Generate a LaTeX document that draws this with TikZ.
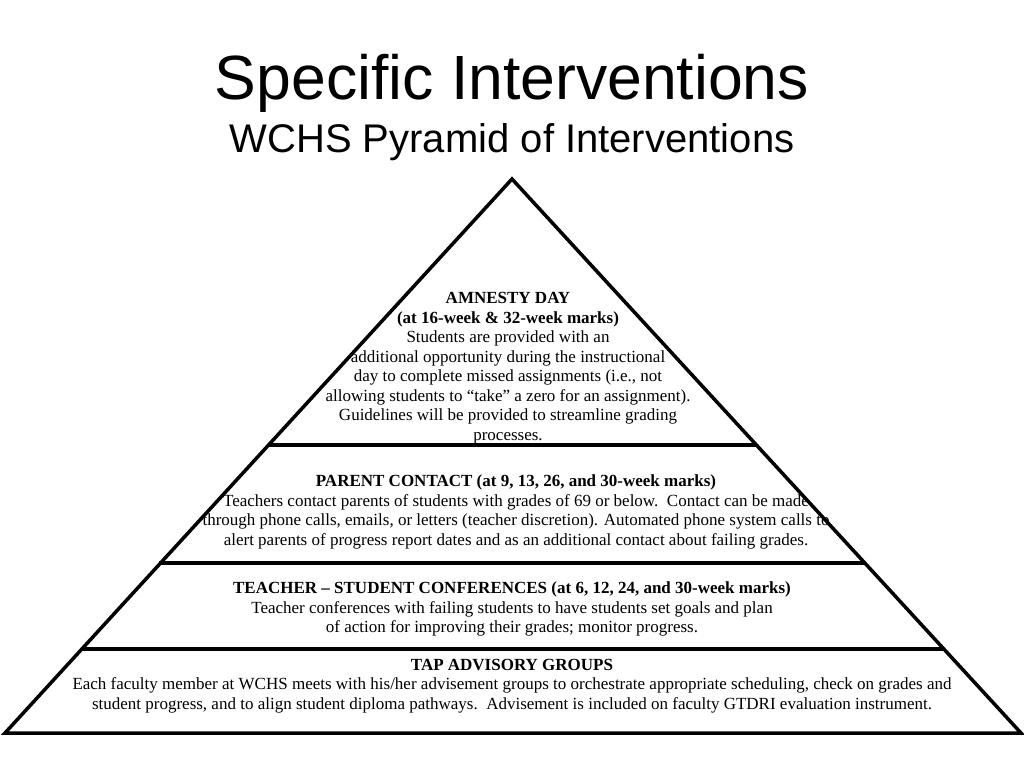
\documentclass[tikz,border=0pt]{standalone}
\usepackage{fontspec}
\setmainfont{Liberation Serif}
\newfontfamily\titlefont{Liberation Sans}
\begin{document}
\begin{tikzpicture}[x=1pt,y=-1pt,
  txt/.style={align=center,font=\fontsize{17}{19.5}\selectfont,inner sep=0},
  edge/.style={line width=3.5pt,line join=miter}]
\useasboundingbox (0,0) rectangle (1024,768);
\fill[white] (0,0) rectangle (1024,768);
\node[font=\titlefont\fontsize{62.5}{64}\selectfont] (title) at (512,83) {Specific Interventions};
\node[font=\titlefont\fontsize{40}{42}\selectfont] (sub) at (512,142) {WCHS Pyramid of Interventions};
\coordinate (apex) at (512,179);
\coordinate (bl) at (5,733);
\coordinate (br) at (1021,733);
\draw[edge] (apex) -- (bl) -- (br) -- cycle;
\draw[edge] (268,445) -- (756,445);
\draw[edge] (159,563) -- (865,563);
\draw[edge] (81,649) -- (943,649);
\node[txt] (t1) at (508,368) {\textbf{AMNESTY DAY}\\\textbf{(at 16-week \& 32-week marks)}\\Students are provided with an\\additional opportunity during the instructional\\day to complete missed assignments (i.e., not\\allowing students to “take” a zero for an assignment).\\Guidelines will be provided to streamline grading\\processes.};
\node[txt] (t2) at (516,512) {\textbf{PARENT CONTACT (at 9, 13, 26, and 30-week marks)}\\Teachers contact parents of students with grades of 69 or below.\ \ Contact can be made\\through phone calls, emails, or letters (teacher discretion). Automated phone system calls to\\alert parents of progress report dates and as an additional contact about failing grades.};
\node[txt] (t3) at (512,609) {\textbf{TEACHER – STUDENT CONFERENCES (at 6, 12, 24, and 30-week marks)}\\Teacher conferences with failing students to have students set goals and plan\\of action for improving their grades; monitor progress.};
\node[txt] (t4) at (512,686) {\textbf{TAP ADVISORY GROUPS}\\Each faculty member at WCHS meets with his/her advisement groups to orchestrate appropriate scheduling, check on grades and\\student progress, and to align student diploma pathways.\ \ Advisement is included on faculty GTDRI evaluation instrument.};
\end{tikzpicture}
\end{document}
